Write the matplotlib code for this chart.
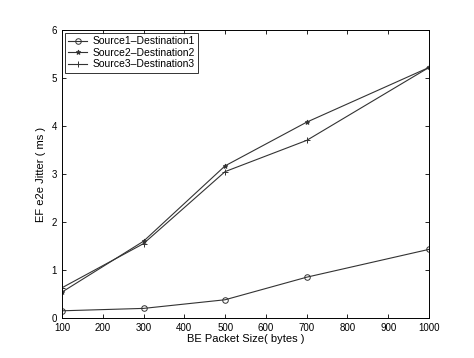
import matplotlib.pyplot as plt

plt.rcParams['font.family'] = ['Liberation Sans', 'DejaVu Sans']

size = [100, 300, 500, 700, 1000]
src1 = [0.15, 0.20, 0.38, 0.85, 1.43]
src2 = [0.54, 1.60, 3.17, 4.08, 5.22]
src3 = [0.63, 1.55, 3.05, 3.70, 5.22]

fig = plt.figure(figsize=(4.74, 3.58), dpi=100)
ax = fig.add_axes([62/474, 40/358, 367/474, 288/358])

ax.plot(size, src1, color='#333333', lw=0.8, marker='o', ms=4, mfc='none', mew=0.7,
        label='Source1\u2013Destination1')
ax.plot(size, src2, color='#333333', lw=0.8, marker='*', ms=3.5, mew=0.7,
        label='Source2\u2013Destination2')
ax.plot(size, src3, color='#333333', lw=0.8, marker='+', ms=5, mew=0.7,
        label='Source3\u2013Destination3')

ax.set_xlim(100, 1000)
ax.set_ylim(0, 6)
ax.set_xticks([100, 200, 300, 400, 500, 600, 700, 800, 900, 1000])
ax.set_yticks([0, 1, 2, 3, 4, 5, 6])
ax.tick_params(direction='in', top=True, right=True, labelsize=7, length=3, width=0.6)
for s in ax.spines.values():
    s.set_linewidth(0.7)
ax.set_xlabel('BE Packet Size( bytes )', fontsize=8, labelpad=1)
ax.set_ylabel('EF e2e Jitter ( ms )', fontsize=8, labelpad=4)
leg = ax.legend(loc='upper left', fontsize=7.5, frameon=True, fancybox=False,
                edgecolor='black', handlelength=1.8, handletextpad=0.5,
                borderaxespad=0.25, labelspacing=0.15, borderpad=0.35)
leg.get_frame().set_linewidth(0.7)

fig.savefig('out.png', dpi=100)
